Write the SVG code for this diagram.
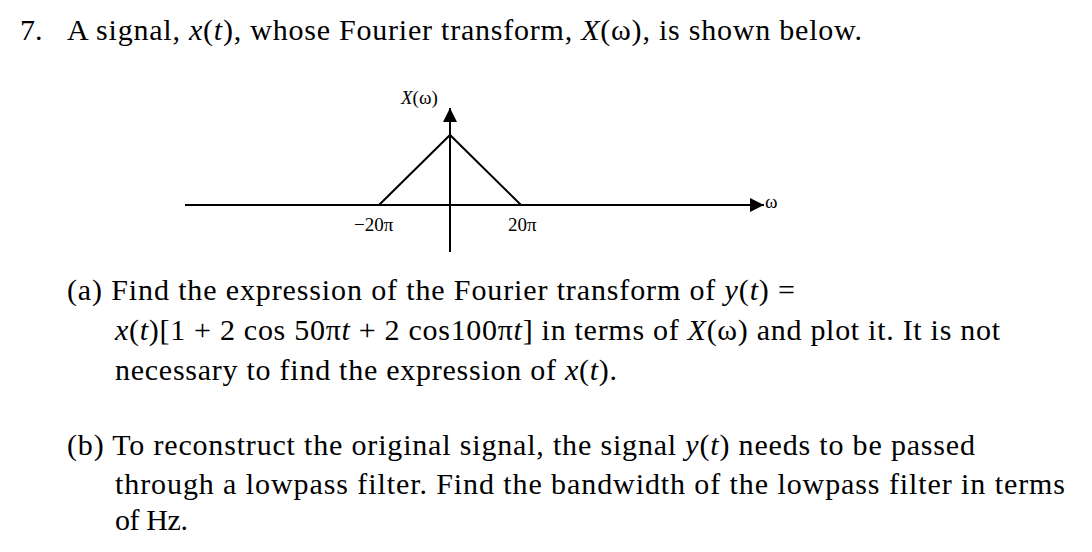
<svg xmlns="http://www.w3.org/2000/svg" width="1092" height="552" viewBox="0 0 1092 552">
<style>
text{font-family:"Liberation Serif","Times New Roman",serif;fill:#000}
.t{font-size:30px}
.s{font-size:19px}
.ln{stroke:#000;stroke-width:2;fill:none}
</style>
<defs><marker id="ah" markerWidth="14" markerHeight="14" refX="14" refY="7" orient="auto" markerUnits="userSpaceOnUse"><path d="M0,0L14,7L0,14Z" fill="#000"/></marker></defs>
<rect width="1092" height="552" fill="#fff"/>
<text class="t" x="20" y="40">7.</text>
<text class="t" x="67" y="40" textLength="795" lengthAdjust="spacing">A signal, <tspan font-style="italic">x</tspan>(<tspan font-style="italic">t</tspan>), whose Fourier transform, <tspan font-style="italic">X</tspan>(ω), is shown below.</text>
<g id="axes">
<line class="ln" x1="185" y1="205" x2="764" y2="205" marker-end="url(#ah)"/>
<line class="ln" x1="450" y1="252" x2="450" y2="108" marker-end="url(#ah)"/>
</g>
<g id="triangle"><polyline class="ln" points="379,205 450,135 521,205"/></g>
<text class="s" x="401" y="104"><tspan font-style="italic">X</tspan>(ω)</text>
<text class="s" x="765" y="208">ω</text>
<text class="s" x="354" y="231">−20π</text>
<text class="s" x="508" y="231">20π</text>
<text class="t" x="67" y="300" textLength="728" lengthAdjust="spacing">(a) Find the expression of the Fourier transform of <tspan font-style="italic">y</tspan>(<tspan font-style="italic">t</tspan>) =</text>
<text class="t" x="115" y="340" textLength="885" lengthAdjust="spacing"><tspan font-style="italic">x</tspan>(<tspan font-style="italic">t</tspan>)[1 + 2 cos 50π<tspan font-style="italic">t</tspan> + 2 cos100π<tspan font-style="italic">t</tspan>] in terms of <tspan font-style="italic">X</tspan>(ω) and plot it.  It is not</text>
<text class="t" x="115" y="380" textLength="502" lengthAdjust="spacing">necessary to find the expression of <tspan font-style="italic">x</tspan>(<tspan font-style="italic">t</tspan>).</text>
<text class="t" x="67" y="455" textLength="908" lengthAdjust="spacing">(b) To reconstruct the original signal, the signal <tspan font-style="italic">y</tspan>(<tspan font-style="italic">t</tspan>) needs to be passed</text>
<text class="t" x="115" y="494" textLength="950" lengthAdjust="spacing">through a lowpass filter.  Find the bandwidth of the lowpass filter in terms</text>
<text class="t" x="115" y="530" textLength="73" lengthAdjust="spacing">of Hz.</text>
</svg>
